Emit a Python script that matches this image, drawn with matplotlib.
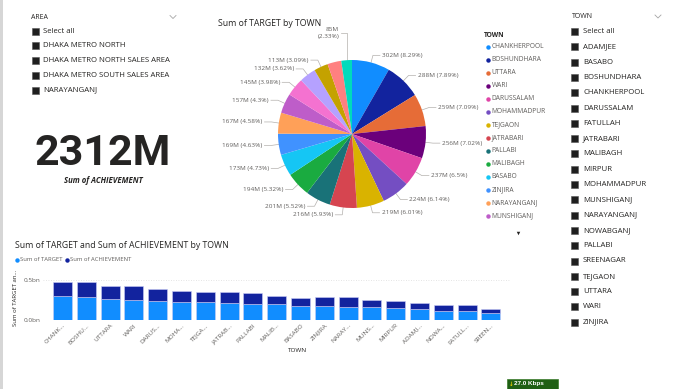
import matplotlib
matplotlib.use("Agg")
import matplotlib.pyplot as plt
from matplotlib.patches import Rectangle
import numpy as np

plt.rcParams['font.family'] = ['Open Sans', 'DejaVu Sans']

# ---------------- data ----------------
towns = ["CHANKHERPOOL", "BOSHUNDHARA", "UTTARA", "WARI", "DARUSSALAM", "MOHAMMADPUR",
         "TEJGAON", "JATRABARI", "PALLABI", "MALIBAGH", "BASABO", "ZINJIRA",
         "NARAYANGANJ", "MUNSHIGANJ", "MIRPUR", "ADAMJEE", "NOWABGANJ", "FATULLAH", "SREENAGAR"]
target_m = [302, 288, 259, 256, 237, 224, 219, 216, 201, 194, 173, 169, 167, 157, 145, 132, 113, 110, 85]
target_pct = ["8.29", "7.89", "7.09", "7.02", "6.5", "6.14", "6.01", "5.93", "5.52", "5.32",
              "4.73", "4.63", "4.58", "4.3", "3.98", "3.62", "3.09", "3.03", "2.33"]
pie_label_shown = [True] * 17 + [False, True]
achievement_m = [167, 186, 163, 168, 150, 142, 133, 138, 133, 108, 100, 120, 117, 88, 96, 83, 79, 83, 58]
bar_ticklabels = ["CHANK...", "BOSHU...", "UTTARA", "WARI", "DARUS...", "MOHA...", "TEJGA...",
                  "JATRAB...", "PALLABI", "MALIB...", "BASABO", "ZINJIRA", "NARAY...", "MUNS...",
                  "MIRPUR", "ADAMJ...", "NOWA...", "FATULL...", "SREEN..."]
area_items = ["Select all", "DHAKA METRO NORTH", "DHAKA METRO NORTH SALES AREA",
              "DHAKA METRO SOUTH SALES AREA", "NARAYANGANJ"]
town_slicer_items = ["Select all", "ADAMJEE", "BASABO", "BOSHUNDHARA", "CHANKHERPOOL", "DARUSSALAM",
                     "FATULLAH", "JATRABARI", "MALIBAGH", "MIRPUR", "MOHAMMADPUR", "MUNSHIGANJ",
                     "NARAYANGANJ", "NOWABGANJ", "PALLABI", "SREENAGAR", "TEJGAON", "UTTARA",
                     "WARI", "ZINJIRA"]
kpi_text = "2312M"
kpi_label = "Sum of ACHIEVEMENT"
palette = ["#118DFF", "#12239E", "#E66C37", "#6B007B", "#E044A7", "#744EC2", "#D9B300",
           "#D64550", "#197278", "#1AAB40", "#15C6F4", "#4092FF", "#FFA058", "#BE5DC9",
           "#F472D0", "#B5A1FF", "#C4A200", "#FF8080", "#00DBBC"]

DARK = "#252423"
GRAY = "#605E5C"
W, H = 680, 389

fig = plt.figure(figsize=(W / 100, H / 100), dpi=100, facecolor="white")

# overlay in pixel coordinates
ov = fig.add_axes([0, 0, 1, 1], zorder=0)
ov.set_xlim(0, W)
ov.set_ylim(H, 0)
ov.axis("off")
ov.patch.set_alpha(0)

# left gray strip
ov.add_patch(Rectangle((0, 0), 2.5, H, color="#d6d6d6", lw=0))


def chevron(x, y):
    ov.plot([x - 3, x, x + 3], [y - 1.5, y + 1.5, y - 1.5], color="#a6a6a6", lw=0.6)


def checkbox(x, y):
    ov.add_patch(Rectangle((x, y - 3.5), 7, 7, facecolor="#1f1f1f", edgecolor="#555555", lw=0.4))


# ---------- AREA slicer ----------
ov.text(31, 17, "AREA", fontsize=5, color=DARK, va="center", ha="left")
chevron(173, 17)
for i, item in enumerate(area_items):
    y = 31 + i * 14.75
    checkbox(32, y)
    ov.text(43, y, item, fontsize=5.6, color=DARK, va="center", ha="left")

# ---------- KPI card ----------
ov.text(103, 153, kpi_text, fontsize=31, fontweight="bold", family=["Roboto", "DejaVu Sans"],
        color=DARK, va="center", ha="center")
ov.text(103, 180, kpi_label, fontsize=5.6, fontweight="bold", style="italic",
        color=DARK, va="center", ha="center")

# ---------- TOWN slicer (right) ----------
ov.text(572, 16.5, "TOWN", fontsize=5, color=DARK, va="center", ha="left")
chevron(658, 16.5)
for i, item in enumerate(town_slicer_items):
    y = 31.5 + i * 15.3
    checkbox(571, y)
    ov.text(583, y, item, fontsize=5.6, color=DARK, va="center", ha="left")

# ---------- Pie ----------
cx, cy, R = 352, 134, 74
ov.text(218, 23, "Sum of TARGET by TOWN", fontsize=6.3, color=DARK, va="center", ha="left")
pax = fig.add_axes([(cx - R) / W, 1 - (cy + R) / H, 2 * R / W, 2 * R / H], zorder=2)
pax.pie(target_m, colors=palette, startangle=90, counterclock=False,
        wedgeprops=dict(linewidth=0), radius=1.0)
pax.set_xlim(-1, 1)
pax.set_ylim(-1, 1)
pax.set_aspect("auto")
pax.axis("off")

total = float(sum(target_m))
cum = 0.0
last = len(target_m) - 1
for i, v in enumerate(target_m):
    frac = v / total
    mid = np.deg2rad(90 - (cum + frac / 2) * 360)
    cum += frac
    if not pie_label_shown[i]:
        continue
    c, s = np.cos(mid), np.sin(mid)
    x0, y0 = cx + R * 1.0 * c, cy - R * 1.0 * s
    x1, y1 = cx + R * 1.1 * c, cy - R * 1.1 * s
    if i == last:
        # near the top: leader goes up, then left; two-line label
        x1, y1 = x0, cy - R - 27
        x2 = x1 - 6
        ov.plot([x0, x1, x2], [y0, y1 + 0, y1], color="#b3b0ad", lw=0.5)
        ov.text(x2 - 1.5, y1, f"{v}M\n({target_pct[i]}%)", fontsize=4.6, color=GRAY,
                ha="right", va="center", linespacing=1.3)
        continue
    d = 1 if c >= 0 else -1
    x2 = x1 + 7 * d
    ov.plot([x0, x1, x2], [y0, y1, y1], color="#b3b0ad", lw=0.5)
    ov.text(x2 + 2 * d, y1, f"{v}M ({target_pct[i]}%)", fontsize=4.6, color=GRAY,
            ha="left" if d > 0 else "right", va="center")

# pie legend
ov.text(484, 35, "TOWN", fontsize=4.8, fontweight="bold", color=DARK, va="center", ha="left")
for i in range(14):
    y = 46.7 + i * 13.0
    ov.plot(488, y, marker="o", ms=3.2, color=palette[i], mec="none")
    ov.text(491.5, y, towns[i], fontsize=4.8, color=GRAY, va="center", ha="left")
ov.plot(518, 233, marker="v", ms=2.5, color=DARK, mec="none")

# ---------- Bar chart ----------
ov.text(15, 245, "Sum of TARGET and Sum of ACHIEVEMENT by TOWN", fontsize=6.3, color=DARK,
        va="center", ha="left")
ov.plot(17, 259.5, marker="o", ms=3.2, color="#118DFF", mec="none")
ov.text(19.5, 259.5, "Sum of TARGET", fontsize=4.2, color=GRAY, va="center", ha="left")
ov.plot(67, 259.5, marker="o", ms=3.2, color="#12239E", mec="none")
ov.text(69.5, 259.5, "Sum of ACHIEVEMENT", fontsize=4.2, color=GRAY, va="center", ha="left")

left_px, right_px, base_px = 43, 510, 320
bax = fig.add_axes([left_px / W, 1 - base_px / H, (right_px - left_px) / W, 44 / H], zorder=2)
x = np.arange(len(towns))
tgt = np.array(target_m) / 1000.0
ach = np.array(achievement_m) / 1000.0
bax.bar(x, tgt, width=0.8, color="#118DFF", edgecolor="#c9cdf5", linewidth=0.4)
bax.bar(x, ach, bottom=tgt, width=0.8, color="#12239E", edgecolor="#c9cdf5", linewidth=0.4)
bax.set_xlim(-0.82, 18.8)
bax.set_ylim(0, 0.55)
for sp in bax.spines.values():
    sp.set_visible(False)
bax.set_yticks([0.0, 0.5])
bax.set_yticklabels(["0.0bn", "0.5bn"], fontsize=4.6, color=GRAY)
bax.axhline(0.5, color="#dcdcdc", lw=0.6, ls=(0, (1, 2)), zorder=0)
bax.axhline(0.0, color="#e6e6e6", lw=0.5, ls=(0, (1, 2)), zorder=0)
bax.tick_params(axis="both", length=0, pad=2)
bax.set_xticks(x)
bax.set_xticklabels(bar_ticklabels, rotation=45, ha="right", rotation_mode="anchor",
                    fontsize=4.6, color=GRAY)
bax.set_ylabel("Sum of TARGET an...", fontsize=4.3, color=DARK, labelpad=4)
bax.patch.set_alpha(0)
ov.text(297, 350, "TOWN", fontsize=4.6, color=DARK, va="center", ha="center")

# ---------- network badge ----------
ov.add_patch(Rectangle((507, 379), 51, 10, facecolor="#1f5f14", edgecolor="#3c7d2c", lw=0.5))
ov.text(508.5, 384, "↓", fontsize=4.0, color="#f2d100", va="center", ha="left",
        family=["DejaVu Sans"], fontweight="bold")
ov.text(513.5, 384, "27.0 Kbps", fontsize=4.6, color="white", va="center", ha="left",
        fontweight="bold", family=["Liberation Sans", "DejaVu Sans"])

fig.savefig("out.png", dpi=100, facecolor="white")
